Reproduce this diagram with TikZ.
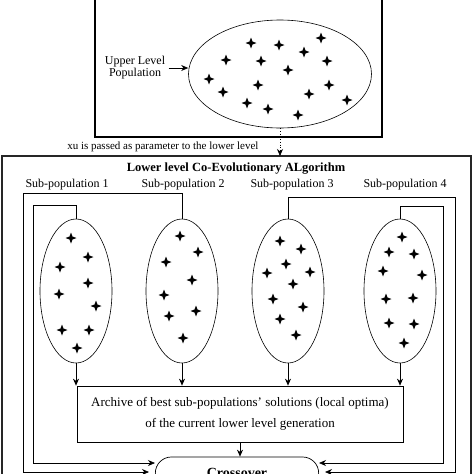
\documentclass[tikz,border=0pt]{standalone}
\usepackage{fontspec}
\setmainfont{Liberation Serif}
\usetikzlibrary{arrows.meta,positioning,shapes.geometric,shapes.misc}

\tikzset{
    twinkle/.pic={\fill (0pt,5.5pt) -- (1.5pt,1.5pt) -- (5.5pt,0pt) -- (1.5pt,-1.5pt) -- (0pt,-5.5pt) -- (-1.5pt,-1.5pt) -- (-5.5pt,0pt) -- (-1.5pt,1.5pt) -- cycle;}
}

\begin{document}
\begin{tikzpicture}[x=1pt, y=-1pt,
    frame/.style={draw, line width=1.3pt, inner sep=0pt, outer sep=0pt},
    popu/.style={draw, ellipse, line width=0.6pt, minimum width=72pt, minimum height=144pt, inner sep=0pt},
    box/.style={draw, line width=0.7pt, minimum width=326pt, minimum height=56pt, align=center, font=\fontsize{13}{14}\selectfont},
    arrow/.style={-{Stealth[length=7pt, width=6pt]}, line width=0.7pt},
    lbl/.style={font=\fontsize{12}{12}\selectfont}
]
    \useasboundingbox (0,0) rectangle (474,474);

    % upper level
    \node[frame, anchor=north west, minimum width=287pt, minimum height=150pt] (upbox) at (95,-13) {};
    \node[popu, minimum width=183pt, minimum height=108pt] (upop) at (280,74) {};
    \foreach \x/\y in {251/43, 279/45, 321/38, 226/60, 261/61, 304/52, 327/61, 288/70, 209/79,
                       258/85, 223/92, 329/85, 309/94, 347/100, 247/103, 268/109, 298/115}
        \pic at (\x,\y) {twinkle};
    \node[lbl, align=center] (ulabel) at (135,68) {Upper Level\\Population};
    \draw[arrow] (ulabel.east) -- (ulabel.east -| upop.west);

    % lower level
    \node[frame, line width=2pt, draw=black!85, anchor=north west, minimum width=469pt, minimum height=340pt] (lowbox) at (2,156) {};
    \draw[arrow, dotted] (upop.south) -- (upop.south |- lowbox.north);
    \node[font=\fontsize{11}{12}\selectfont, anchor=east] (xu) at (262,147) {xu is passed as parameter to the lower level};
    \node[font=\bfseries\fontsize{12.5}{12}\selectfont] (title) at (236,169) {Lower level Co-Evolutionary ALgorithm};

    \foreach \i/\x/\lx in {1/76/67, 2/182/183, 3/288/292, 4/400/405} {
        \node[popu] (sub\i) at (\x,291) {};
        \node[lbl] (lab\i) at (\lx,185) {Sub-population \i};
    }
    \foreach \x/\y in {71/238, 88/257, 60/267, 88/283, 59/294, 96/306, 62/330, 89/330, 77/348,
                       180/236, 198/252, 166/262, 192/280, 164/295, 169/316, 196/311, 183/338,
                       280/241, 301/249, 286/264, 267/273, 310/272, 293/284, 273/299, 303/307, 280/319, 296/335,
                       402/237, 389/252, 414/254, 383/271, 422/275, 386/299, 413/298, 389/323, 414/324, 404/343}
        \pic at (\x,\y) {twinkle};

    \node[box] (archive) at (240,414) {Archive of best sub-populations{\char"27} solutions (local optima)\\[7pt]of the current lower level generation};
    \node[draw, rounded rectangle, line width=0.7pt, minimum width=170pt, minimum height=32pt,
          font=\bfseries\fontsize{14}{14}\selectfont] (cross) at (237,473) {Crossover};

    \foreach \i in {1,...,4}
        \draw[arrow] (sub\i.south) -- (sub\i.south |- archive.north);
    \draw[arrow] (archive.south) -- (archive.south |- cross.north);

    \draw[arrow] (sub1.north) |- ++(-43,-13) |- ([yshift=10pt]cross.west);
    \draw[arrow] (sub2.north) |- ++(-159,-25) |- ([xshift=-6pt, yshift=1pt]cross.west);
    \draw[arrow] (sub3.north) |- ++(167,-21) |- ([xshift=6pt, yshift=1pt]cross.east);
    \draw[arrow] (sub4.north) |- ++(43,-12) |- ([yshift=10pt]cross.east);
\end{tikzpicture}
\end{document}
